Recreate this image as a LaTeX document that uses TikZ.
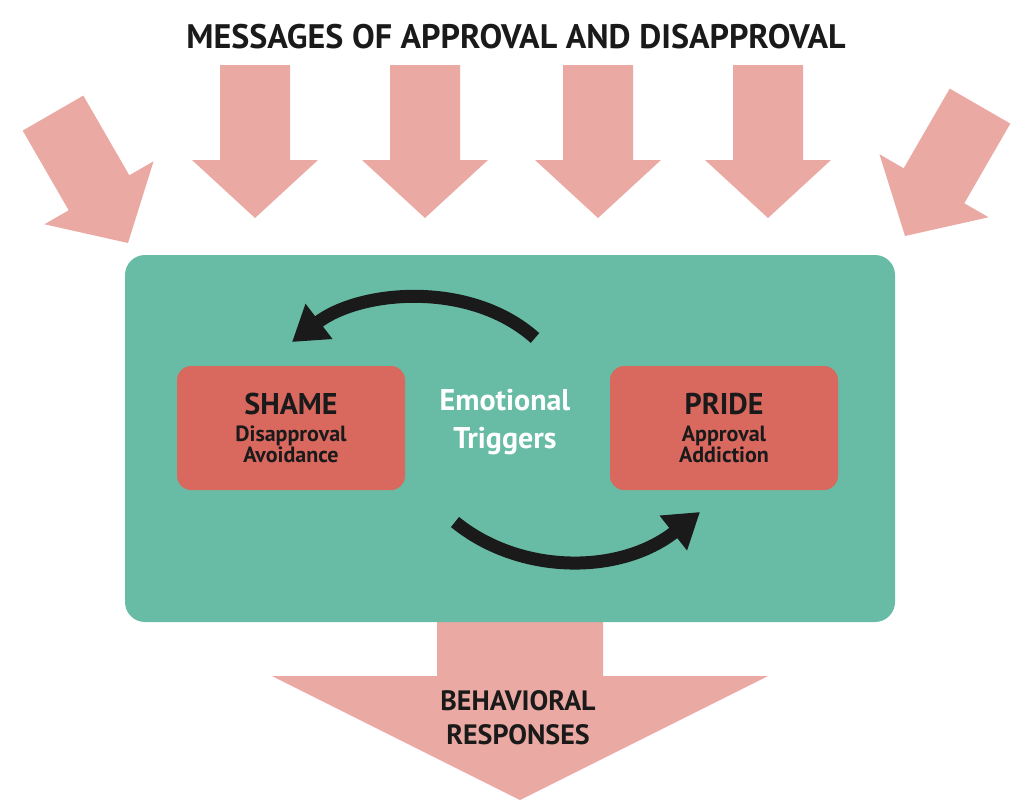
\documentclass[tikz,border=0pt]{standalone}
\usepackage{fontspec}
\setmainfont{PT Sans}
\usetikzlibrary{arrows.meta}
\definecolor{pinkarr}{HTML}{EBA9A4}
\definecolor{panelgreen}{HTML}{68BCA5}
\definecolor{boxred}{HTML}{D9685F}
\definecolor{ink}{HTML}{1A1A1A}
\tikzset{
  msgarrow/.style={fill=pinkarr,draw=none},
  feelbox/.style={fill=boxred,rounded corners=14pt,minimum width=228pt,minimum height=124pt,align=center,text=ink,font=\bfseries},
  cyclearrow/.style={line width=13pt,draw=ink,-{Triangle[length=34pt,width=42pt]}}
}
% arrow with its tip at the origin, pointing down
\newcommand{\msgshape}[1]{%
  \fill[msgarrow] (-35,-#1)--(35,-#1)--(35,-58)--(63,-58)--(0,0)--(-63,-58)--(-35,-58)--cycle;}
\newcommand{\bigtxt}{\fontsize{30}{34}\selectfont}
\newcommand{\smalltxt}{\fontsize{22}{27}\selectfont}
\begin{document}
\begin{tikzpicture}[x=1pt,y=-1pt]
\useasboundingbox (0,0) rectangle (1024,811);
% title
\node[font=\bfseries\fontsize{34}{38}\selectfont,text=ink] (title) at (516,37) {MESSAGES OF APPROVAL AND DISAPPROVAL};
% incoming arrows
\foreach \x in {255,425,598,768}{
  \begin{scope}[shift={(\x,218)}] \msgshape{153} \end{scope}
}
\begin{scope}[shift={(128,243)},rotate=30] \msgshape{150} \end{scope}
\begin{scope}[shift={(905,236)},rotate=-30] \msgshape{150} \end{scope}
% outgoing arrow
\fill[msgarrow] (437,600)--(603,600)--(603,676)--(768,676)--(520,800)--(272,676)--(437,676)--cycle;
\node[font=\bfseries\fontsize{28}{34}\selectfont,text=ink,align=center] (resp) at (518,718) {BEHAVIORAL\\RESPONSES};
% main panel
\fill[panelgreen,rounded corners=20pt] (125,255) rectangle (895,622);
\node[feelbox] (shame) at (291,428) {\bigtxt SHAME\\[10pt]\smalltxt Disapproval\\\smalltxt Avoidance};
\node[feelbox] (pride) at (724,428) {\bigtxt PRIDE\\[10pt]\smalltxt Approval\\\smalltxt Addiction};
\node[font=\bfseries\fontsize{30}{38}\selectfont,text=white,align=center] (trig) at (505,422) {Emotional\\Triggers};
% feedback loop
\coordinate (t1) at (535,338);
\coordinate (t2) at (292,342);
\coordinate (b1) at (455,522);
\coordinate (b2) at (700,512);
\draw[cyclearrow] (t1) .. controls (470,280) and (360,290) .. (t2);
\draw[cyclearrow] (b1) .. controls (520,575) and (620,575) .. (b2);
\end{tikzpicture}
\end{document}
